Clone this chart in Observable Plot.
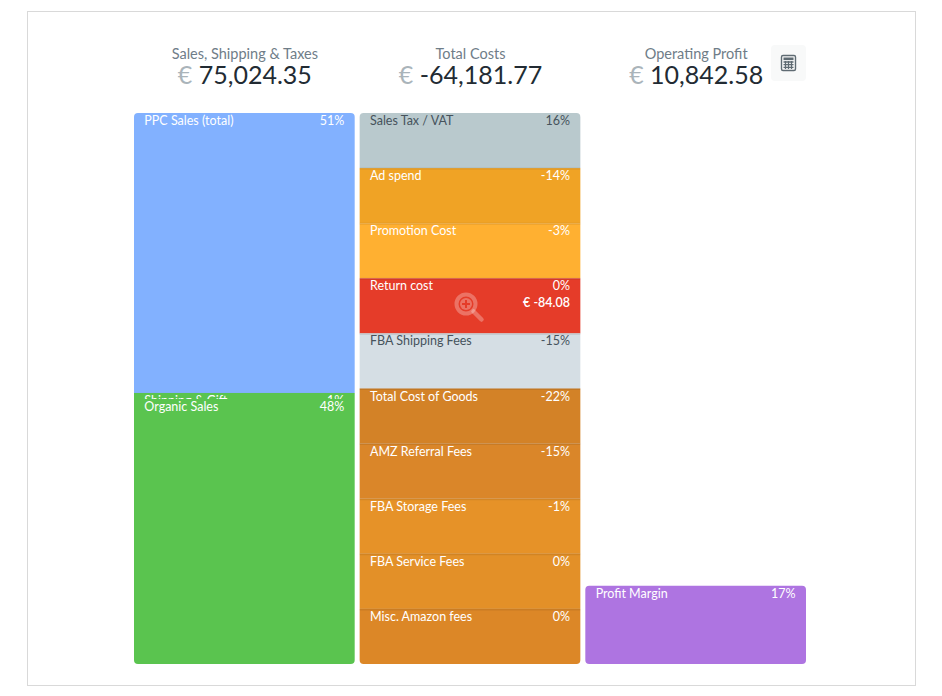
<!DOCTYPE html>
<html><head><meta charset="utf-8">
<script src="https://cdn.jsdelivr.net/npm/d3@7"></script>
<script src="https://cdn.jsdelivr.net/npm/@observablehq/plot@0.6"></script>
<style>
html,body{margin:0;padding:0;background:#fff}
#wrap{position:relative;width:942px;height:696px;overflow:hidden}
#frame{position:absolute;left:27px;top:11px;width:887px;height:673px;border:1px solid #d9d9d9;pointer-events:none}
#calc{position:absolute;left:771px;top:45px;width:35px;height:36px;background:#f8f9f9;border-radius:4px}
#zoomi{position:absolute;left:453px;top:291px}
svg text{font-family:Lato,"Open Sans",sans-serif}
</style></head><body>
<div id="wrap"><div id="frame"></div><div id="plot"></div>
<div id="calc"><svg width="35" height="36" viewBox="0 0 35 36"><rect x="10.5" y="10.5" width="14" height="15" rx="1.5" fill="none" stroke="#5f6b73" stroke-width="1.4"/><rect x="12.5" y="12.5" width="10" height="2.6" fill="#5f6b73"/><path d="M12.5 17h10M12.5 19.7h10M12.5 22.4h10M14.5 16v8M17.5 16v8M20.5 16v8" stroke="#5f6b73" stroke-width="1.3" fill="none"/></svg></div>
<svg id="zoomi" width="32" height="32" viewBox="0 0 32 32"><circle cx="13" cy="13" r="9.5" fill="none" stroke="#fff" stroke-opacity=".28" stroke-width="4"/><circle cx="13" cy="13" r="6" fill="#fff" fill-opacity=".28"/><path d="M13 9v8M9 13h8" stroke="#e53c29" stroke-width="2"/><path d="M20.5 20.5l8 8" stroke="#fff" stroke-opacity=".28" stroke-width="4.5" stroke-linecap="round"/></svg>
</div>
<script>
const columns = ["Sales, Shipping & Taxes", "Total Costs", "Operating Profit"];
const totals = ["€ 75,024.35", "€ -64,181.77", "€ 10,842.58"];

const segColumn = [0,0,0, 1,1,1,1,1,1,1,1,1,1, 2];
const segLabels = ["PPC Sales (total)","Shipping & Gift","Organic Sales",
  "Sales Tax / VAT","Ad spend","Promotion Cost","Return cost","FBA Shipping Fees",
  "Total Cost of Goods","AMZ Referral Fees","FBA Storage Fees","FBA Service Fees","Misc. Amazon fees",
  "Profit Margin"];
const segPercents = ["51%","1%","48%","16%","-14%","-3%","0%","-15%","-22%","-15%","-1%","0%","0%","17%"];
const segHeights = [50.81,1.1,48.09, 10,10,10,10,10,10,10,10,10,10, 14.2];
const segColors = ["#82b1ff","#5ac44f","#5ac44f",
  "#b9c9cd","#f0a325","#ffb031","#e53c29","#d5dee4",
  "#d38227","#da8629","#e69228","#e39028","#dc8727","#ae74e1"];
const segText = ["#fff","#fff","#fff","#46535c","#fff","#fff","#fff","#46535c","#fff","#fff","#fff","#fff","#fff","#fff"];
const hoverValue = ["Return cost", "€ -84.08"];

// Build stacked table: first segment in a column sits on top
const used = [0,0,0];
const columnTop = [100,100,14.2];
const table = segLabels.map((label,i)=>{
  const c = segColumn[i];
  const y2 = columnTop[c]-used[c];
  used[c]+=segHeights[i];
  return {column:columns[c],label,pct:segPercents[i],y1:y2-segHeights[i],y2,color:segColors[i],text:segText[i],c};
});
const first = d=>d.label===segLabels[0]||d.label===segLabels[3];
const last = d=>d.label===segLabels[2]||d.label===segLabels[12];
const single = d=>d.label===segLabels[13];
const middle = d=>!first(d)&&!last(d)&&!single(d);
const base = {x:"column",y1:"y1",y2:"y2",fill:"color"};
const shipping = d=>d.label===segLabels[1];
const labelBase = {x:"column",y:"y2",fill:"text",fontSize:12.5,lineAnchor:"middle",dy:7.5};
const kpi = columns.map((c,i)=>({column:c,total:totals[i]}));

const plot = Plot.plot({
  width:942,height:696,margin:0,
  x:{domain:columns,range:[134,806],paddingInner:0.022,paddingOuter:0,round:false,axis:null},
  y:{domain:[0,100],range:[664,113],axis:null},
  marks:[
    Plot.barY(table,{...base,filter:first,rx1y1:4,rx2y1:4}),
    Plot.barY(table,{...base,filter:middle}),
    Plot.text(table,{...labelBase,filter:shipping,text:"label",textAnchor:"start",dx:-100.5}),
    Plot.text(table,{...labelBase,filter:shipping,text:"pct",textAnchor:"end",dx:99.5}),
    Plot.barY(table,{...base,filter:last,rx1y2:4,rx2y2:4}),
    Plot.barY(table,{...base,filter:single,rx1y1:4,rx2y1:4,rx1y2:4,rx2y2:4}),
    Plot.tickY(table,{filter:d=>d.c===1&&!first(d),x:"column",y:"y2",stroke:"#000",strokeOpacity:0.08,strokeWidth:2}),
    Plot.text(table,{...labelBase,filter:d=>!shipping(d),text:"label",textAnchor:"start",dx:-100.5}),
    Plot.text(table,{...labelBase,filter:d=>!shipping(d),text:"pct",textAnchor:"end",dx:99.5}),
    Plot.text([hoverValue],{x:()=>columns[1],y:()=>table[6].y2,text:d=>d[1],fill:"#fff",fontSize:12.5,fontWeight:600,textAnchor:"end",dx:99.5,dy:24.5}),
    Plot.text(kpi,{x:"column",frameAnchor:"top",dy:54,text:"column",fill:"#6f7d88",fontSize:14.5,lineAnchor:"middle"}),
    Plot.text(kpi,{x:"column",frameAnchor:"top",dy:75.5,text:"total",fill:"#222b33",fontSize:25,lineAnchor:"middle",className:"kpi"})
  ]
});
d3.select(plot).selectAll(".kpi text").each(function(){
  const t=d3.select(this),s=t.text(),parts=s.split(" ");
  t.text("");
  t.append("tspan").attr("fill","#aab4ba").text("€ ");
  t.append("tspan").text(parts.slice(1).join(" "));
});
document.getElementById("plot").append(plot);
</script>
</body></html>
